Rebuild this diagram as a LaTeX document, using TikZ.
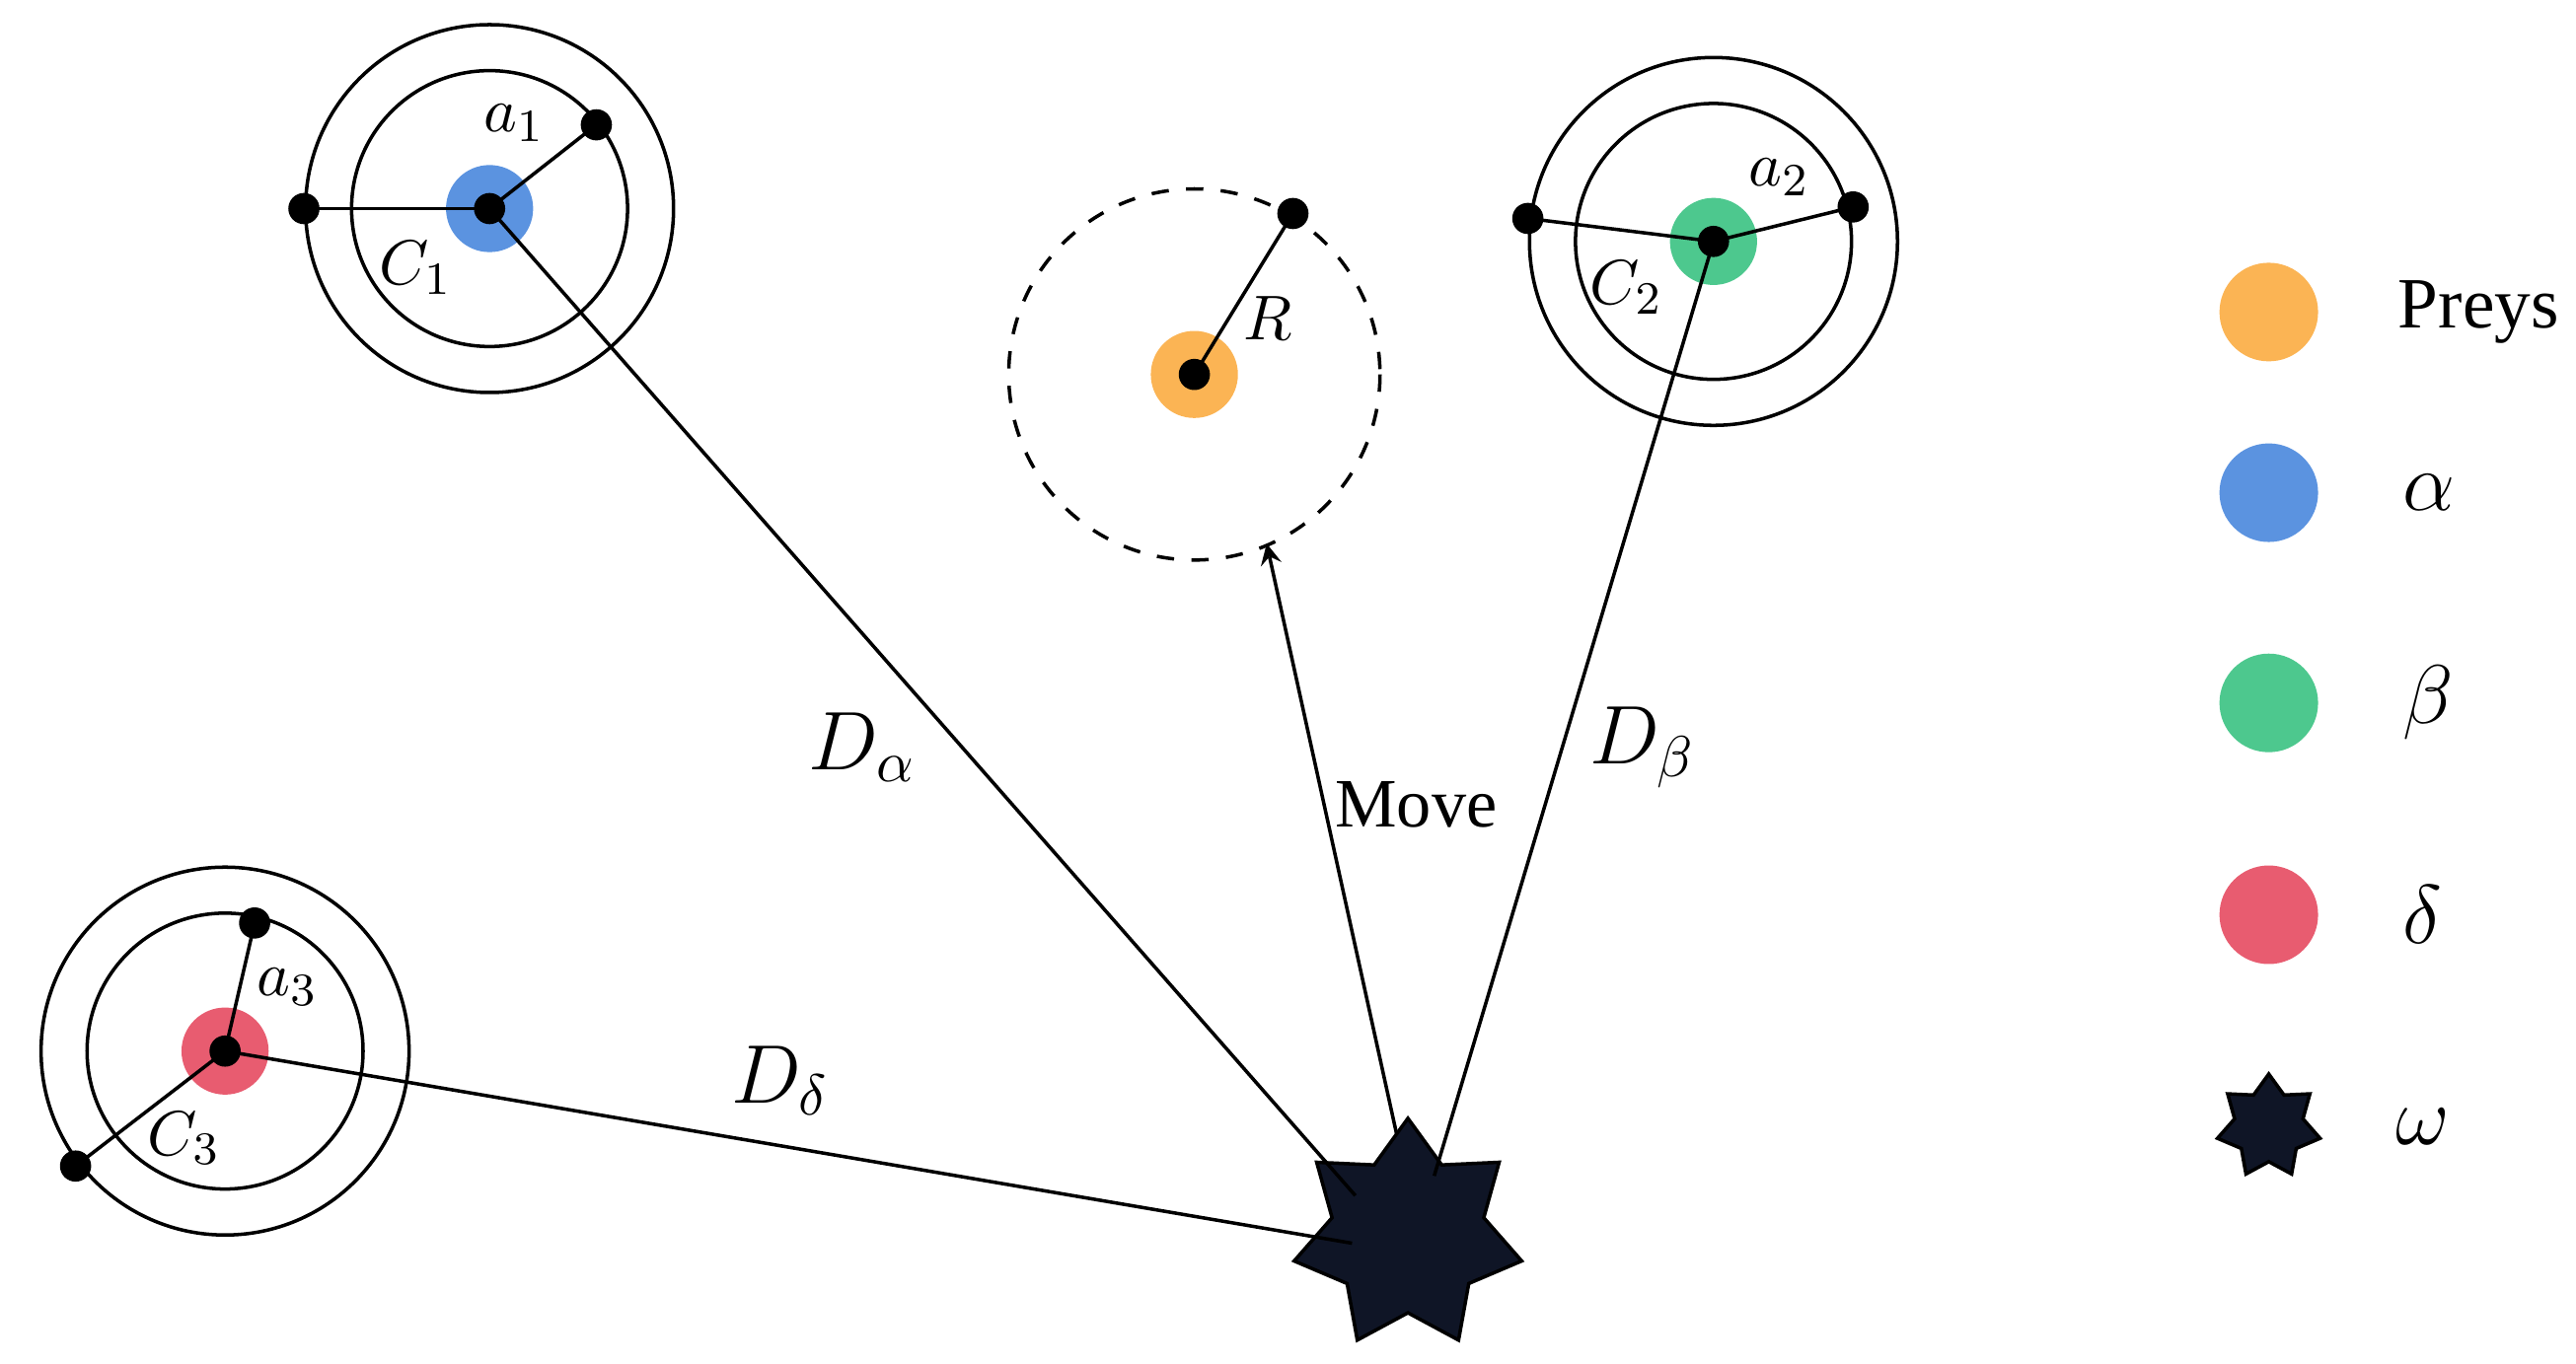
\documentclass[tikz,border=0pt]{standalone}
\usepackage{fontspec}
\setmainfont{Liberation Serif}
\usetikzlibrary{shapes.geometric}
\definecolor{preyc}{HTML}{FBB454}
\definecolor{alphac}{HTML}{5B93E0}
\definecolor{betac}{HTML}{4DC88E}
\definecolor{deltac}{HTML}{E85C70}
\definecolor{omegac}{HTML}{0F1526}
\tikzset{
	dot/.style={circle, fill=black, inner sep=0pt, minimum size=0.19cm},
	wolf/.style={circle, fill=#1, inner sep=0pt, minimum size=0.53cm},
	leader/.style={star, star points=7, star point ratio=1.5, fill=omegac, draw=black, inner sep=0pt, minimum size=#1},
	lbl/.style={font=\fontsize{11}{13}\selectfont},
	big/.style={font=\fontsize{14}{16}\selectfont},
}
\begin{document}
\begin{tikzpicture}[>=stealth, x=0.01cm, y=-0.01cm, semithick]
	\useasboundingbox (0,0) rectangle (1568,830);

	% wolves
	\node[wolf=alphac] (alpha) at (298,127) {};
	\node[wolf=preyc] (prey) at (727,228) {};
	\node[wolf=betac] (beta) at (1043,147) {};
	\node[wolf=deltac] (delta) at (137,640) {};
	\node[leader=1.42cm] (omega) at (857,752) {};

	\foreach \w in {alpha, beta, delta} {
		\draw (\w) circle [radius=84];
		\draw (\w) circle [radius=112];
	}
	\draw[dashed] (prey) circle [radius=113];

	\foreach \w in {alpha, prey, beta, delta}
		\node[dot] (\w c) at (\w) {};

	% radius points
	\node[dot] (a1) at (363,76) {};
	\node[dot] (c1) at (185,127) {};
	\node[dot] (r0) at (787,130) {};
	\node[dot] (a2) at (1128,126) {};
	\node[dot] (c2) at (930,133) {};
	\node[dot] (a3) at (155,562) {};
	\node[dot] (c3) at (46,710) {};

	\draw (alphac.center) -- (a1.center);
	\draw (alphac.center) -- (c1.center);
	\draw (preyc.center) -- (r0.center);
	\draw (betac.center) -- (a2.center);
	\draw (betac.center) -- (c2.center);
	\draw (deltac.center) -- (a3.center);
	\draw (deltac.center) -- (c3.center);

	% distances
	\coordinate (ea) at (825,728);
	\coordinate (eb) at (873,716);
	\coordinate (ed) at (823,757);
	\coordinate (em) at (850,690);
	\coordinate (tm) at (771,331);
	\draw (alphac.center) -- (ea);
	\draw (betac.center) -- (eb);
	\draw (deltac.center) -- (ed);
	\draw[->] (em) -- (tm);

	% labels
	\node[lbl] at (313,75) {$a_1$};
	\node[lbl] at (253,163) {$C_1$};
	\node[lbl] at (1083,108) {$a_2$};
	\node[lbl] at (990,175) {$C_2$};
	\node[lbl] at (175,601) {$a_3$};
	\node[lbl] at (112,693) {$C_3$};
	\node[lbl] at (772,194) {$R$};
	\node[big] at (525,455) {$D_\alpha$};
	\node[big] at (1000,455) {$D_\beta$};
	\node[big] at (475,658) {$D_\delta$};
	\node[lbl, font=\fontsize{12}{14}\selectfont] at (862,490) {Move};

	% legend
	\node[wolf=preyc, minimum size=0.6cm] (lprey) at (1381,190) {};
	\node[wolf=alphac, minimum size=0.6cm] (lalpha) at (1381,300) {};
	\node[wolf=betac, minimum size=0.6cm] (lbeta) at (1381,428) {};
	\node[wolf=deltac, minimum size=0.6cm] (ldelta) at (1381,557) {};
	\node[leader=0.64cm] (lomega) at (1381,686) {};
	\node[big, font=\fontsize{12.5}{14}\selectfont, right=0.35cm] at (lprey.east) {Preys};
	\node[big, right=0.38cm] at (lalpha.east) {$\alpha$};
	\node[big, right=0.38cm] at (lbeta.east) {$\beta$};
	\node[big, right=0.38cm] at (ldelta.east) {$\delta$};
	\node[big, right=0.38cm] at (lomega.east) {$\omega$};
\end{tikzpicture}
\end{document}
